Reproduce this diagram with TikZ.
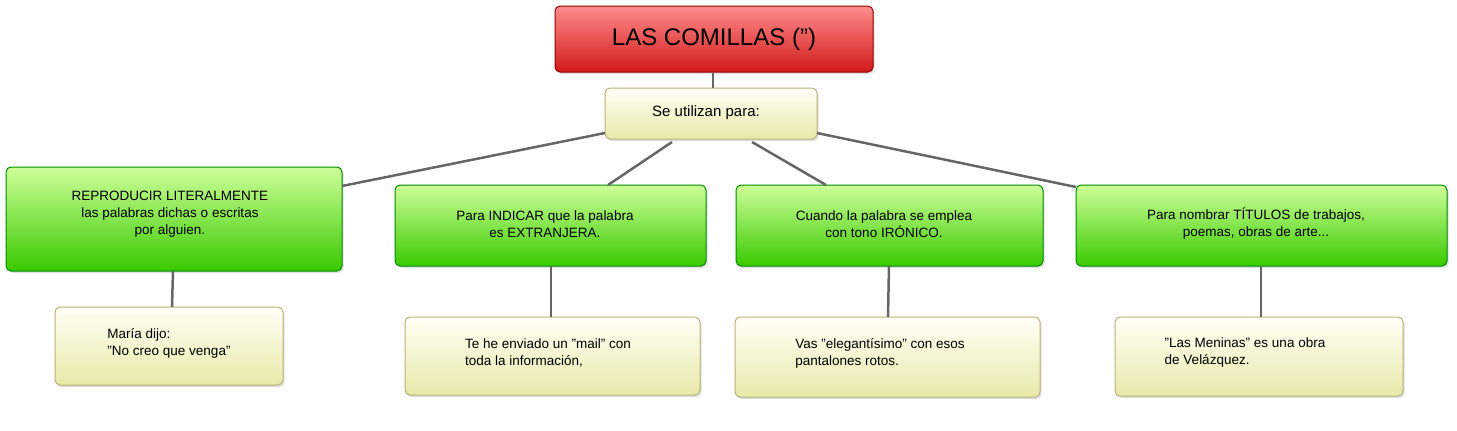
\documentclass[tikz,border=0pt]{standalone}
\usepackage{fontspec}
\setmainfont{Liberation Sans}
\usetikzlibrary{shadows}
\tikzset{
  box/.style={draw, rounded corners=5pt, line width=1pt, drop shadow={opacity=0.25, shadow xshift=1.5pt, shadow yshift=-2pt}},
  redbox/.style={box, draw=red!60!black, top color=red!45, bottom color=red!80!black!90, text=black},
  greenbox/.style={box, draw=green!55!black, top color=green!30!lime!40, bottom color=green!70!black!70!lime},
  creambox/.style={box, draw=yellow!35!gray, top color=yellow!3, bottom color=yellow!30!olive!25},
  txt/.style={font=\fontsize{13.5}{17}\selectfont, align=center},
  con/.style={draw=black!60, line width=2.5pt}
}
\begin{document}
\begin{tikzpicture}[x=1pt,y=-1pt]
\useasboundingbox (0,0) rectangle (1457,431);
\path[redbox] (555,6) rectangle (873,72);
\node[font=\fontsize{24}{28}\selectfont] (t) at (714,39) {LAS COMILLAS (")};
\path[creambox] (605,88) rectangle (817,139);
\node[txt, font=\fontsize{15}{18}\selectfont] (s) at (706,113) {Se utilizan para:};
\coordinate (tb) at (713,72); \coordinate (st) at (713,88);
% green
\path[greenbox] (6,167) rectangle (342,271);
\node[txt] (g1) at (170,214) {REPRODUCIR LITERALMENTE\\ las palabras dichas o escritas\\ por alguien.};
\path[greenbox] (395,185) rectangle (706,266);
\node[txt] (g2) at (545,224) {Para INDICAR que la palabra\\ es EXTRANJERA.};
\path[greenbox] (736,185) rectangle (1043,266);
\node[txt] (g3) at (884,224) {Cuando la palabra se emplea\\ con tono IRÓNICO.};
\path[greenbox] (1076,185) rectangle (1447,266);
\node[txt] (g4) at (1256,224) {Para nombrar TÍTULOS de trabajos,\\ poemas, obras de arte...};
% cream
\path[creambox] (55,307) rectangle (283,385);
\node[txt, align=left] (c1) at (169,343) {María dijo:\\ "No creo que venga"};
\path[creambox] (405,317) rectangle (700,395);
\node[txt, align=left] (c2) at (548,353) {Te he enviado un "mail" con\\ toda la información,};
\path[creambox] (735,317) rectangle (1040,397);
\node[txt, align=left] (c3) at (880,353) {Vas "elegantísimo" con esos\\ pantalones rotos.};
\path[creambox] (1115,317) rectangle (1403,396);
\node[txt, align=left] (c4) at (1245,353) {"Las Meninas" es una obra\\ de Velázquez.};
% connectors
\coordinate (a0) at (605,133); \coordinate (a1) at (342,186);
\coordinate (b0) at (672,142); \coordinate (b1) at (608,185);
\coordinate (d0) at (752,142); \coordinate (d1) at (826,185);
\coordinate (e0) at (817,133); \coordinate (e1) at (1076,187);
\begin{scope}[on background layer/.style={}]
\draw[con] (tb) -- (st);
\draw[con] (a0) -- (a1);
\draw[con] (b0) -- (b1);
\draw[con] (d0) -- (d1);
\draw[con] (e0) -- (e1);
\coordinate (g1b) at (173,271); \coordinate (c1t) at (172,307);
\coordinate (g2b) at (551,266); \coordinate (c2t) at (551,317);
\coordinate (g3b) at (889,266); \coordinate (c3t) at (888,317);
\coordinate (g4b) at (1261,266); \coordinate (c4t) at (1261,317);
\draw[con] (g1b) -- (c1t);
\draw[con] (g2b) -- (c2t);
\draw[con] (g3b) -- (c3t);
\draw[con] (g4b) -- (c4t);
\end{scope}
\end{tikzpicture}
\end{document}
